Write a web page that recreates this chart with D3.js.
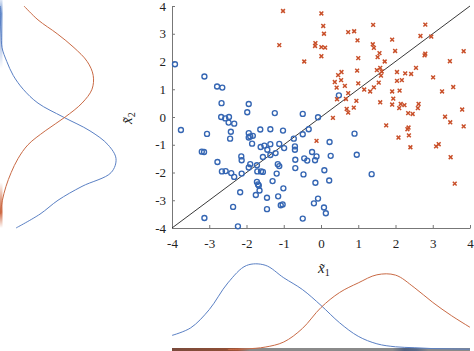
<!DOCTYPE html>
<html>
<head>
<meta charset="utf-8">
<script src="https://cdn.jsdelivr.net/npm/d3@7"></script>
<style>
  body { margin: 0; background: #fff; }
  svg { display: block; }
  text { font-family: "Liberation Serif", "DejaVu Serif", serif; fill: #222; }
</style>
</head>
<body>
<svg id="chart" width="474" height="351"></svg>
<script>
// class 1 (blue circles): [x1, x2]
const classA = [
  [-3.92,1.90],[-3.13,1.46],[-2.79,1.10],[-2.65,1.06],[-2.67,0.50],[-1.94,0.47],[-1.98,0.17],
  [-2.68,0.00],[-2.57,-0.05],[-2.47,0.00],[-1.24,0.14],[-0.49,0.11],[-0.08,-0.01],[0.48,0.78],
  [-3.76,-0.47],[-3.06,-0.61],[-2.48,-0.20],[-2.33,-0.24],[-2.42,-0.53],[-2.44,-0.78],
  [-1.94,-0.58],[-1.90,-0.70],[-1.83,-0.68],[-1.94,-0.74],[-1.85,-0.96],[-1.63,-0.45],[-1.36,-0.44],[-1.02,-0.49],
  [-1.62,-1.08],[-1.52,-1.03],[-1.36,-0.98],[-1.44,-1.18],[-1.56,-1.44],[-1.12,-0.97],[-0.99,-1.12],[-1.22,-1.30],[-1.36,-1.37],
  [-3.20,-1.25],[-3.14,-1.26],[-2.78,-1.62],[-2.66,-1.96],[-2.56,-1.95],[-2.41,-2.02],[-2.33,-2.16],[-2.14,-1.42],[-2.13,-1.56],[-2.13,-2.04],
  [-1.90,-1.70],[-1.94,-1.82],[-1.72,-1.74],[-1.71,-1.96],[-1.61,-1.96],[-1.56,-1.98],[-2.17,-2.71],[-2.36,-3.24],
  [-1.72,-2.34],[-1.69,-2.43],[-1.67,-2.47],[-1.65,-2.65],[-1.75,-2.81],[-1.45,-2.91],[-1.45,-3.32],[-1.30,-2.31],[-1.19,-2.04],
  [-1.16,-1.70],[-1.12,-1.77],[-1.01,-2.57],[-1.15,-2.86],[-1.08,-3.18],[-1.03,-3.15],
  [-3.13,-3.64],[-2.23,-3.94],[-0.69,-1.84],[-0.69,-1.54],[-0.49,-3.66],[-0.49,-0.62],[-0.73,-0.78],[-0.70,-1.06],[-0.70,-1.18],
  [-0.33,-0.44],[-0.24,-1.26],[-0.45,-1.49],[-0.37,-1.57],[-0.12,-1.42],[-0.16,-1.56],[-0.15,-2.37],[-0.47,-2.07],
  [-0.08,-2.94],[-0.19,-3.11],[0.08,-3.26],[0.13,-3.47],
  [0.90,-0.60],[0.23,-0.90],[0.26,-1.40],[0.96,-1.36],[0.09,-1.92],[1.36,-2.06],[0.22,-2.29]
];

// class 2 (red crosses): [x1, x2]
const classB = [
  [-1.02,3.82],[0.01,3.73],[0.06,3.28],[0.08,3.00],[-1.12,2.59],[-0.15,2.66],[-0.16,2.56],[0.01,2.52],[0.11,2.50],
  [0.73,3.06],[0.89,3.09],[0.98,2.76],[-0.45,2.00],[0.01,2.19],[1.00,2.12],[0.97,1.67],[0.46,1.51],[0.55,1.62],
  [0.54,1.33],[0.37,1.26],[0.42,1.06],[0.64,1.12],[1.00,1.21],[1.16,0.99],[0.73,0.86],[0.67,0.65],[0.95,0.58],
  [0.43,0.64],[0.69,0.29],[0.88,0.34],[0.73,0.16],[0.32,-0.03],
  [1.40,3.32],[2.80,3.33],[2.67,2.92],[2.96,2.90],[1.91,2.79],[1.39,2.62],[1.42,2.49],[1.99,2.38],[2.80,2.28],
  [2.78,2.22],[1.57,2.30],[1.52,2.16],[3.83,2.37],[3.46,2.01],[1.71,2.00],[1.50,1.69],[1.59,1.77],[1.63,1.64],
  [1.61,1.49],[2.04,1.62],[2.26,1.57],[2.42,1.55],[2.55,1.77],[3.01,1.43],[2.04,1.30],[2.17,1.33],[1.55,1.24],
  [1.42,1.07],[1.32,0.92],[2.11,0.95],[1.91,0.92],[3.25,0.92],[3.55,1.08],[1.94,0.66],[1.59,0.53],[1.91,0.45],
  [2.14,0.47],[2.24,0.43],[2.10,0.32],[2.62,0.47],[2.60,0.32],[2.34,0.14],[2.46,0.11],[3.79,0.27],[3.33,0.01],
  [-0.12,-0.86],[1.75,-0.30],[2.08,-0.74],[2.32,-0.44],[2.35,-0.38],[2.36,-0.66],[2.40,-1.09],[3.09,-1.06],
  [3.16,-0.98],[3.47,-0.19],[3.83,-0.34],[3.48,-1.45],[3.59,-2.40]
];

const tickValues = [-4, -3, -2, -1, 0, 1, 2, 3, 4];
const diagonal = [-4, 4];

const gridPts = [-4,-3.5,-3,-2.5,-2,-1.5,-1,-0.5,0,0.5,1,1.5,2,2.5,3,3.5,4];
const densBottomA = [0.047,0.072,0.133,0.222,0.280,0.281,0.239,0.200,0.147,0.089,0.044,0.019,0.009,0.006,0.003,0.002,0.001];
const densBottomB = [0,0,0,0,0.002,0.008,0.025,0.070,0.140,0.190,0.222,0.249,0.248,0.207,0.157,0.113,0.074];
const densLeftA   = [0.040,0.100,0.145,0.205,0.278,0.290,0.270,0.225,0.158,0.095,0.058,0.033,0.017,0.005,0.003,0.001,0.001];
const densLeftB   = [0,0.001,0.006,0.015,0.028,0.045,0.070,0.113,0.163,0.205,0.230,0.233,0.218,0.185,0.143,0.095,0.060];

const colA = "#3566b3", colB = "#c9502a";
const lineA = "#5a80c4", lineB = "#c96a45";
const serif = "'Liberation Serif', 'DejaVu Serif', serif";

const svg = d3.select("#chart");

const x = d3.scaleLinear().domain([-4, 4]).range([172, 470]);
const y = d3.scaleLinear().domain([-4, 4]).range([228, 6]);

// axes
const gx = svg.append("g").attr("transform", "translate(0,228)")
  .call(d3.axisBottom(x).tickValues(tickValues).tickSizeInner(-3).tickSizeOuter(0).tickPadding(11));
const gy = svg.append("g").attr("transform", "translate(172,0)")
  .call(d3.axisLeft(y).tickValues(tickValues).tickSizeInner(-3).tickSizeOuter(0).tickPadding(6));
[gx, gy].forEach(g => {
  g.attr("font-family", serif).attr("font-size", 13);
  g.select(".domain").attr("stroke", "#777").attr("stroke-width", 1);
  g.selectAll(".tick line").attr("stroke", "#777");
  g.selectAll(".tick text").attr("fill", "#222").text(d => d < 0 ? "-" + Math.abs(d) : d);
});

// axis titles
const xl = svg.append("text").attr("x", 318).attr("y", 273).style("font-size", "15px");
xl.append("tspan").style("font-style", "italic").text("x\u0303");
xl.append("tspan").attr("dy", 3).style("font-size", "10px").text("1");

const yl = svg.append("text").attr("transform", "translate(132,124) rotate(-90)").style("font-size", "15px");
yl.append("tspan").style("font-style", "italic").text("x\u0303");
yl.append("tspan").attr("dy", 3).style("font-size", "10px").text("2");

// decision line
svg.append("line")
  .attr("x1", x(diagonal[0])).attr("y1", y(diagonal[0]))
  .attr("x2", x(diagonal[1])).attr("y2", y(diagonal[1]))
  .attr("stroke", "#222").attr("stroke-width", 0.9);

// points
svg.append("g").selectAll("circle").data(classA).join("circle")
  .attr("cx", d => x(d[0])).attr("cy", d => y(d[1])).attr("r", 2.5)
  .attr("fill", "none").attr("stroke", colA).attr("stroke-width", 1.35);

svg.append("g").selectAll("path").data(classB).join("path")
  .attr("transform", d => `translate(${x(d[0])},${y(d[1])})`)
  .attr("d", "M-1.9,-1.9L1.9,1.9M-1.9,1.9L1.9,-1.9")
  .attr("stroke", colB).attr("stroke-width", 1.5);

// bottom marginal
const base = 349.5;
const hb = d3.scaleLinear().domain([0, 0.3]).range([base, base - 90]);
const bottomLine = d3.line().x(d => x(d[0])).y(d => Math.min(base, hb(d[1]))).curve(d3.curveCatmullRom.alpha(0.5));

const defs = svg.append("defs");
const gb = defs.append("linearGradient").attr("id", "gb");
[[0, "#7a4b3c"], [0.18, "#8e4e35"], [0.22, "#a0553a"], [0.26, "#8a8a8a"], [0.74, "#8a8a8a"],
 [0.78, "#52617e"], [0.82, "#5a6a86"], [0.86, "#8a8a8a"], [1, "#8a8a8a"]]
  .forEach(s => gb.append("stop").attr("offset", s[0]).attr("stop-color", s[1]));
svg.append("rect").attr("x", x(-4)).attr("y", base - 1.5).attr("width", x(4) - x(-4)).attr("height", 3)
  .attr("fill", "url(#gb)");

svg.append("path").datum(gridPts.map((g, i) => [g, densBottomA[i]]))
  .attr("d", bottomLine).attr("fill", "none").attr("stroke", lineA).attr("stroke-width", 1);
svg.append("path").datum(gridPts.map((g, i) => [g, densBottomB[i]]).filter(d => d[0] >= -2.5))
  .attr("d", bottomLine).attr("fill", "none").attr("stroke", lineB).attr("stroke-width", 1);

// left marginal
const wl = d3.scaleLinear().domain([0, 0.3]).range([0, 120]);
const leftLine = d3.line().x(d => Math.max(0, wl(d[1]))).y(d => y(d[0])).curve(d3.curveCatmullRom.alpha(0.5));

const gl = defs.append("linearGradient").attr("id", "gl").attr("x1", 0).attr("y1", 0).attr("x2", 0).attr("y2", 1);
[[0, "#dfe8f6"], [0.06, "#6f93cf"], [0.2, "#bccbe8"], [0.3, "#ffffff"], [0.8, "#ffffff"],
 [0.87, "#e2a58d"], [0.93, "#d06a45"], [1, "#ffffff"]]
  .forEach(s => gl.append("stop").attr("offset", s[0]).attr("stop-color", s[1]));
svg.append("rect").attr("x", 0).attr("y", 0).attr("width", 2.5).attr("height", y(-4))
  .attr("fill", "url(#gl)");

svg.append("path").datum(gridPts.map((g, i) => [g, densLeftA[i]]))
  .attr("d", leftLine).attr("fill", "none").attr("stroke", lineA).attr("stroke-width", 1);
svg.append("path").datum(gridPts.map((g, i) => [g, densLeftB[i]]).filter(d => d[0] >= -3.5))
  .attr("d", leftLine).attr("fill", "none").attr("stroke", lineB).attr("stroke-width", 1);
</script>
</body>
</html>
